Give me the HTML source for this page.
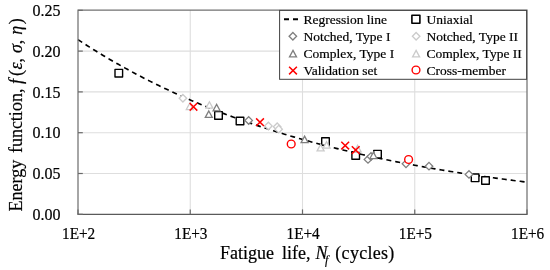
<!DOCTYPE html>
<html><head><meta charset="utf-8"><style>
html,body{margin:0;padding:0;background:#fff;}
body{width:550px;height:270px;overflow:hidden;}
svg text{stroke:#000;stroke-width:0.2px;}
svg{display:block;font-family:"Liberation Serif","Times New Roman",serif;}
.tk{font-size:16px;fill:#000;}
.lg{font-size:13.5px;fill:#000;}
.ti{font-size:18px;fill:#000;}
</style></head><body>
<svg width="550" height="270" viewBox="0 0 550 270">
<rect width="550" height="270" fill="#fff"/>
<g><line x1="78" y1="51.10" x2="527" y2="51.10" stroke="#dedede" stroke-width="1.1"/><line x1="78" y1="91.90" x2="527" y2="91.90" stroke="#dedede" stroke-width="1.1"/><line x1="78" y1="132.70" x2="527" y2="132.70" stroke="#dedede" stroke-width="1.1"/><line x1="78" y1="173.50" x2="527" y2="173.50" stroke="#dedede" stroke-width="1.1"/><line x1="190.25" y1="10" x2="190.25" y2="214" stroke="#dedede" stroke-width="1.1"/><line x1="302.50" y1="10" x2="302.50" y2="214" stroke="#dedede" stroke-width="1.1"/><line x1="414.75" y1="10" x2="414.75" y2="214" stroke="#dedede" stroke-width="1.1"/></g>
<polyline points="78.00,39.61 80.25,41.08 82.49,42.55 84.73,44.00 86.98,45.44 89.23,46.86 91.47,48.28 93.72,49.68 95.96,51.07 98.21,52.45 100.45,53.81 102.70,55.17 104.94,56.51 107.18,57.85 109.43,59.17 111.67,60.48 113.92,61.78 116.16,63.06 118.41,64.34 120.65,65.61 122.90,66.86 125.14,68.11 127.39,69.34 129.63,70.57 131.88,71.78 134.12,72.98 136.37,74.18 138.62,75.36 140.86,76.53 143.11,77.70 145.35,78.85 147.60,79.99 149.84,81.13 152.09,82.25 154.33,83.36 156.58,84.47 158.82,85.57 161.07,86.65 163.31,87.73 165.56,88.80 167.80,89.86 170.04,90.91 172.29,91.95 174.53,92.98 176.78,94.01 179.02,95.02 181.27,96.03 183.51,97.03 185.76,98.02 188.00,99.00 190.25,99.97 192.50,100.94 194.74,101.89 196.99,102.84 199.23,103.78 201.48,104.71 203.72,105.64 205.96,106.56 208.21,107.46 210.45,108.37 212.70,109.26 214.94,110.15 217.19,111.02 219.43,111.90 221.68,112.76 223.92,113.62 226.17,114.47 228.41,115.31 230.66,116.14 232.91,116.97 235.15,117.79 237.39,118.61 239.64,119.41 241.88,120.21 244.13,121.01 246.38,121.79 248.62,122.57 250.87,123.35 253.11,124.11 255.36,124.87 257.60,125.63 259.85,126.38 262.09,127.12 264.34,127.85 266.58,128.58 268.83,129.30 271.07,130.02 273.32,130.73 275.56,131.44 277.81,132.13 280.05,132.83 282.30,133.51 284.54,134.20 286.79,134.87 289.03,135.54 291.27,136.20 293.52,136.86 295.76,137.51 298.01,138.16 300.25,138.80 302.50,139.44 304.74,140.07 306.99,140.70 309.24,141.32 311.48,141.93 313.72,142.54 315.97,143.15 318.22,143.75 320.46,144.34 322.70,144.93 324.95,145.51 327.20,146.09 329.44,146.67 331.68,147.24 333.93,147.80 336.17,148.36 338.42,148.92 340.66,149.47 342.91,150.01 345.15,150.56 347.40,151.09 349.64,151.62 351.89,152.15 354.13,152.68 356.38,153.19 358.62,153.71 360.87,154.22 363.12,154.72 365.36,155.23 367.61,155.72 369.85,156.22 372.10,156.71 374.34,157.19 376.59,157.67 378.83,158.15 381.08,158.62 383.32,159.09 385.56,159.55 387.81,160.01 390.05,160.47 392.30,160.92 394.55,161.37 396.79,161.82 399.03,162.26 401.28,162.70 403.53,163.13 405.77,163.56 408.01,163.99 410.26,164.41 412.51,164.83 414.75,165.25 416.99,165.66 419.24,166.07 421.49,166.47 423.73,166.88 425.97,167.28 428.22,167.67 430.47,168.06 432.71,168.45 434.95,168.84 437.20,169.22 439.45,169.60 441.69,169.97 443.94,170.35 446.18,170.72 448.42,171.08 450.67,171.44 452.91,171.80 455.16,172.16 457.40,172.52 459.65,172.87 461.89,173.21 464.14,173.56 466.38,173.90 468.63,174.24 470.88,174.58 473.12,174.91 475.37,175.24 477.61,175.57 479.86,175.90 482.10,176.22 484.35,176.54 486.59,176.85 488.84,177.17 491.08,177.48 493.33,177.79 495.57,178.10 497.81,178.40 500.06,178.70 502.30,179.00 504.55,179.30 506.80,179.59 509.04,179.88 511.28,180.17 513.53,180.45 515.78,180.74 518.02,181.02 520.26,181.30 522.51,181.58 524.76,181.85 527.00,182.12" fill="none" stroke="#000" stroke-width="1.65" stroke-dasharray="5 4"/>
<g><rect x="115.00" y="69.40" width="7.6" height="7.6" fill="#fff" stroke="#000000" stroke-width="1.4" stroke-linejoin="round"/><rect x="214.70" y="111.60" width="7.6" height="7.6" fill="#fff" stroke="#000000" stroke-width="1.4" stroke-linejoin="round"/><rect x="236.20" y="117.20" width="7.6" height="7.6" fill="#fff" stroke="#000000" stroke-width="1.4" stroke-linejoin="round"/><rect x="321.70" y="137.70" width="7.6" height="7.6" fill="#fff" stroke="#000000" stroke-width="1.4" stroke-linejoin="round"/><rect x="351.90" y="151.60" width="7.6" height="7.6" fill="#fff" stroke="#000000" stroke-width="1.4" stroke-linejoin="round"/><rect x="373.70" y="150.40" width="7.6" height="7.6" fill="#fff" stroke="#000000" stroke-width="1.4" stroke-linejoin="round"/><rect x="471.30" y="174.00" width="7.6" height="7.6" fill="#fff" stroke="#000000" stroke-width="1.4" stroke-linejoin="round"/><rect x="481.70" y="176.70" width="7.6" height="7.6" fill="#fff" stroke="#000000" stroke-width="1.4" stroke-linejoin="round"/><path d="M248.7 116.7L252.4 120.4L248.7 124.2L244.9 120.4Z" fill="#fff" stroke="#7f7f7f" stroke-width="1.3"/><path d="M368.0 155.7L371.8 159.4L368.0 163.2L364.2 159.4Z" fill="#fff" stroke="#7f7f7f" stroke-width="1.3"/><path d="M371.0 152.7L374.8 156.4L371.0 160.2L367.2 156.4Z" fill="#fff" stroke="#7f7f7f" stroke-width="1.3"/><path d="M406.0 160.1L409.8 163.8L406.0 167.6L402.2 163.8Z" fill="#fff" stroke="#7f7f7f" stroke-width="1.3"/><path d="M429.0 162.4L432.8 166.2L429.0 169.9L425.2 166.2Z" fill="#fff" stroke="#7f7f7f" stroke-width="1.3"/><path d="M469.0 170.7L472.8 174.4L469.0 178.2L465.2 174.4Z" fill="#fff" stroke="#7f7f7f" stroke-width="1.3"/><path d="M182.9 94.5L186.7 98.2L182.9 102.0L179.2 98.2Z" fill="#fff" stroke="#cbcbcb" stroke-width="1.3"/><path d="M268.4 122.2L272.1 125.9L268.4 129.7L264.6 125.9Z" fill="#fff" stroke="#cbcbcb" stroke-width="1.3"/><path d="M277.2 123.0L280.9 126.8L277.2 130.6L273.4 126.8Z" fill="#fff" stroke="#cbcbcb" stroke-width="1.3"/><path d="M278.7 125.4L282.4 129.2L278.7 132.9L274.9 129.2Z" fill="#fff" stroke="#cbcbcb" stroke-width="1.3"/><path d="M216.60 104.35L220.10 110.80L213.10 110.80Z" fill="#fff" stroke="#7f7f7f" stroke-width="1.3" stroke-linejoin="miter"/><path d="M208.80 110.95L212.30 117.40L205.30 117.40Z" fill="#fff" stroke="#7f7f7f" stroke-width="1.3" stroke-linejoin="miter"/><path d="M304.60 136.15L308.10 142.60L301.10 142.60Z" fill="#fff" stroke="#7f7f7f" stroke-width="1.3" stroke-linejoin="miter"/><path d="M373.40 152.10L376.90 158.55L369.90 158.55Z" fill="#fff" stroke="#7f7f7f" stroke-width="1.3" stroke-linejoin="miter"/><path d="M189.80 103.10L193.30 109.55L186.30 109.55Z" fill="#fff" stroke="#cbcbcb" stroke-width="1.3" stroke-linejoin="miter"/><path d="M209.40 101.75L212.90 108.20L205.90 108.20Z" fill="#fff" stroke="#cbcbcb" stroke-width="1.3" stroke-linejoin="miter"/><path d="M320.60 144.40L324.10 150.85L317.10 150.85Z" fill="#fff" stroke="#cbcbcb" stroke-width="1.3" stroke-linejoin="miter"/><path d="M326.60 141.70L330.10 148.15L323.10 148.15Z" fill="#fff" stroke="#cbcbcb" stroke-width="1.3" stroke-linejoin="miter"/><path d="M357.60 145.30L361.10 151.75L354.10 151.75Z" fill="#fff" stroke="#cbcbcb" stroke-width="1.3" stroke-linejoin="miter"/><path d="M189.7 103.0L197.3 110.6M197.3 103.0L189.7 110.6" stroke="#ff0000" stroke-width="1.5"/><path d="M256.1 118.4L263.9 126.0M263.9 118.4L256.1 126.0" stroke="#ff0000" stroke-width="1.5"/><path d="M341.3 141.8L349.1 149.4M349.1 141.8L341.3 149.4" stroke="#ff0000" stroke-width="1.5"/><path d="M351.8 146.2L359.6 153.9M359.6 146.2L351.8 153.9" stroke="#ff0000" stroke-width="1.5"/><circle cx="291.2" cy="144.0" r="3.9" fill="#fff" stroke="#ff0000" stroke-width="1.4"/><circle cx="408.6" cy="159.5" r="3.9" fill="#fff" stroke="#ff0000" stroke-width="1.4"/></g>
<path d="M78 214.3V10H527V214.3" fill="none" stroke="#727272" stroke-width="1.25"/><line x1="77.4" y1="214.3" x2="527.6" y2="214.3" stroke="#5a5a5a" stroke-width="1.2"/>
<g><line x1="78" y1="10.30" x2="82.8" y2="10.30" stroke="#6a6a6a" stroke-width="1.2"/><line x1="78" y1="51.10" x2="82.8" y2="51.10" stroke="#6a6a6a" stroke-width="1.2"/><line x1="78" y1="91.90" x2="82.8" y2="91.90" stroke="#6a6a6a" stroke-width="1.2"/><line x1="78" y1="132.70" x2="82.8" y2="132.70" stroke="#6a6a6a" stroke-width="1.2"/><line x1="78" y1="173.50" x2="82.8" y2="173.50" stroke="#6a6a6a" stroke-width="1.2"/><line x1="78" y1="214.30" x2="82.8" y2="214.30" stroke="#6a6a6a" stroke-width="1.2"/><line x1="78.00" y1="209.4" x2="78.00" y2="214.3" stroke="#6a6a6a" stroke-width="1.2"/><line x1="190.25" y1="209.4" x2="190.25" y2="214.3" stroke="#6a6a6a" stroke-width="1.2"/><line x1="302.50" y1="209.4" x2="302.50" y2="214.3" stroke="#6a6a6a" stroke-width="1.2"/><line x1="414.75" y1="209.4" x2="414.75" y2="214.3" stroke="#6a6a6a" stroke-width="1.2"/><line x1="527.00" y1="209.4" x2="527.00" y2="214.3" stroke="#6a6a6a" stroke-width="1.2"/></g>
<g class="tk"><text x="60.6" y="16.0" text-anchor="end">0.25</text><text x="60.6" y="56.8" text-anchor="end">0.20</text><text x="60.6" y="97.6" text-anchor="end">0.15</text><text x="60.6" y="138.4" text-anchor="end">0.10</text><text x="60.6" y="179.2" text-anchor="end">0.05</text><text x="60.6" y="220.0" text-anchor="end">0.00</text><text transform="translate(78.60,238.75) scale(0.955,1)" text-anchor="middle">1E+2</text><text transform="translate(190.85,238.75) scale(0.955,1)" text-anchor="middle">1E+3</text><text transform="translate(303.10,238.75) scale(0.955,1)" text-anchor="middle">1E+4</text><text transform="translate(415.35,238.75) scale(0.955,1)" text-anchor="middle">1E+5</text><text transform="translate(527.60,238.75) scale(0.955,1)" text-anchor="middle">1E+6</text></g>
<g class="lg"><rect x="279.6" y="10.4" width="247.0" height="68.89999999999999" fill="#fff" stroke="#404040" stroke-width="1"/><line x1="284" y1="19.2" x2="298.2" y2="19.2" stroke="#000" stroke-width="2" stroke-dasharray="5 4"/><path d="M292.9 32.5L296.6 36.3L292.9 40.0L289.1 36.3Z" fill="#fff" stroke="#7f7f7f" stroke-width="1.3"/><path d="M293.00 50.40L296.50 56.85L289.50 56.85Z" fill="#fff" stroke="#7f7f7f" stroke-width="1.3" stroke-linejoin="miter"/><path d="M289.1 66.8L296.9 74.4M296.9 66.8L289.1 74.4" stroke="#ff0000" stroke-width="1.5"/><rect x="411.9" y="15.20" width="8" height="8" fill="#fff" stroke="#000" stroke-width="1.6" stroke-linejoin="round"/><path d="M416.1 32.5L419.9 36.3L416.1 40.0L412.4 36.3Z" fill="#fff" stroke="#cbcbcb" stroke-width="1.3"/><path d="M416.10 50.40L419.60 56.85L412.60 56.85Z" fill="#fff" stroke="#cbcbcb" stroke-width="1.3" stroke-linejoin="miter"/><circle cx="416.0" cy="70.0" r="3.9" fill="#fff" stroke="#ff0000" stroke-width="1.4"/><text x="303.5" y="23.8">Regression line</text><text x="303.5" y="40.9">Notched, Type I</text><text x="303.5" y="58.1">Complex, Type I</text><text x="303.5" y="75.2">Validation set</text><text x="426.6" y="23.8">Uniaxial</text><text x="426.6" y="40.9">Notched, Type II</text><text x="426.6" y="58.1">Complex, Type II</text><text x="426.6" y="75.2">Cross-member</text></g>
<text class="ti" y="258.8"><tspan x="220.1">Fatigue</tspan><tspan x="281.9">life,</tspan><tspan x="315.4" font-style="italic">N</tspan></text><text x="325.1" y="264.0" font-size="12px" font-style="italic">f</text><text class="ti" x="335.3" y="258.8" letter-spacing="0.3">(cycles)</text>
<text class="ti" transform="translate(21.8,212) rotate(-90)" y="0"><tspan x="0.5">Energy</tspan><tspan x="58.9">function,</tspan><tspan x="128" font-style="italic">f</tspan><tspan x="136">(</tspan><tspan x="142.5" font-style="italic">ε</tspan><tspan>, </tspan><tspan x="158.9" font-style="italic">σ</tspan><tspan>, </tspan><tspan x="177.2" font-style="italic">η</tspan><tspan x="187.7">)</tspan></text>
</svg>
</body></html>
